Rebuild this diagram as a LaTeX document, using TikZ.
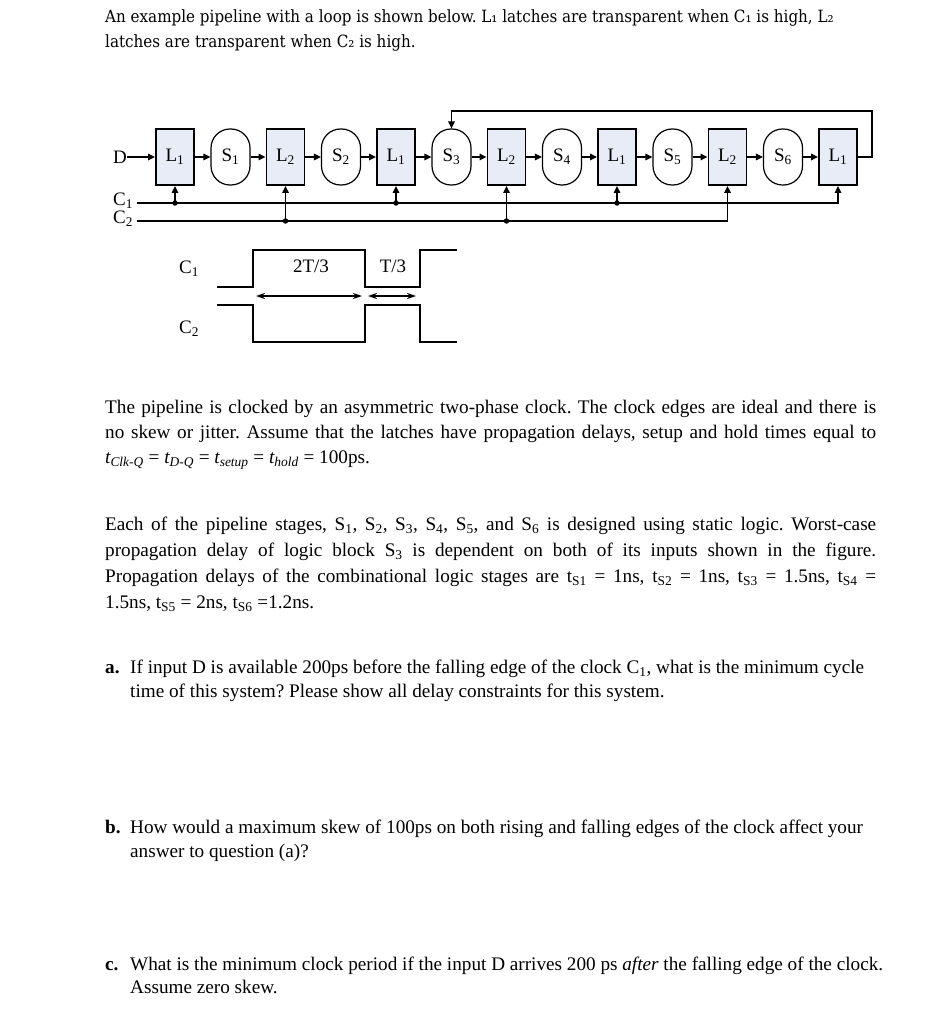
\documentclass[tikz,border=0pt]{standalone}
\usepackage{fontspec}
\setmainfont{Liberation Serif}
\newfontfamily\topfont{DejaVu Serif Condensed}
\usetikzlibrary{arrows.meta}
\definecolor{latchfill}{RGB}{232,236,246}
\newcommand{\jl}[1]{\makebox[771pt][s]{#1}}
\newcommand{\ts}[1]{t\textsubscript{S#1}}
\frenchspacing
\begin{document}
\begin{tikzpicture}[x=1pt,y=-1pt,
  txt/.style={anchor=base west, inner sep=0pt, font=\fontsize{19.2}{22}\selectfont},
  toptxt/.style={anchor=base west, inner sep=0pt, font=\topfont\fontsize{16.85}{20}\selectfont},
  latch/.style={draw, line width=1.9pt, fill=latchfill, minimum width=38pt, minimum height=56pt, inner sep=0pt, font=\fontsize{19}{19}\selectfont},
  stage/.style={draw, line width=1.2pt, rounded corners=19pt, minimum width=39pt, minimum height=56pt, inner sep=0pt, font=\fontsize{19}{19}\selectfont},
  wire/.style={line width=1.5pt},
  arr/.style={wire, -{Triangle[length=7pt,width=6.5pt]}},
  dim/.style={line width=1.3pt, {Stealth[length=9pt,width=6pt]}-{Stealth[length=9pt,width=6pt]}},
  wave/.style={line width=2pt},
  lbl/.style={inner sep=0pt, font=\fontsize{19}{19}\selectfont},
  dot/.style={circle, fill, inner sep=0pt, minimum size=5.5pt}
]
\useasboundingbox (0,0) rectangle (948,1024);
\fill[white] (0,0) rectangle (948,1024);

% top paragraph
\node[toptxt] (t1) at (105,23) {An example pipeline with a loop is shown below. L₁ latches are transparent when C₁ is high, L₂};
\node[toptxt] (t2) at (105,48) {latches are transparent when C₂ is high.};

% pipeline
\foreach \i/\l in {1/1,2/2,3/1,4/2,5/1,6/2,7/1}{
  \node[latch] (la\i) at ({175+110.5*(\i-1)},157) {L\textsubscript{\l}};
}
\foreach \i in {1,...,6}{
  \node[stage] (s\i) at ({230.5+110.5*(\i-1)},157) {S\textsubscript{\i}};
}
\node[lbl] (D) at (120,157) {D};
\draw[arr] (D) -- (la1);
\foreach \i [evaluate=\i as \j using int(\i+1)] in {1,...,6}{
  \draw[arr] (la\i) -- (s\i);
  \draw[arr] (s\i) -- (la\j);
}
\draw[arr] (la7.east) -- ++(14,0) -- ++(0,-46) -| (s3.north);

% clock lines
\node[lbl] (C1) at (123,201) {C\textsubscript{1}};
\node[lbl] (C2) at (123,219) {C\textsubscript{2}};
\coordinate (c1s) at (137,203);
\coordinate (c2s) at (137,221);
\draw[arr] (c1s) -| (la7.south);
\draw[arr] (c2s) -| (la6.south);
\foreach \i in {1,3,5}{
  \draw[arr] (la\i.south |- c1s) -- (la\i.south);
  \node[dot] at (la\i.south |- c1s) {};
}
\foreach \i in {2,4}{
  \draw[arr] (la\i.south |- c2s) -- (la\i.south);
  \node[dot] at (la\i.south |- c2s) {};
}

% clock waveforms
\node[lbl] (w1) at (189,269) {C\textsubscript{1}};
\node[lbl] (w2) at (189,329) {C\textsubscript{2}};
\draw[wave] (217,287) -- (253,287) -- (253,250) -- (365,250) -- (365,287) -- (420,287) -- (420,250) -- (457,250);
\draw[wave] (217,305) -- (253,305) -- (253,342) -- (365,342) -- (365,305) -- (420,305) -- (420,342) -- (457,342);
\coordinate (a1) at (256,296);
\coordinate (a2) at (362,296);
\coordinate (a3) at (368,296);
\coordinate (a4) at (416,296);
\draw[dim] (a1) -- (a2);
\draw[dim] (a3) -- (a4);
\node[lbl] (tt1) at (311,266) {2T/3};
\node[lbl] (tt2) at (393,266) {T/3};

% paragraph 2
\node[txt] (p1) at (105,413) {\jl{The pipeline is clocked by an asymmetric two-phase clock. The clock edges are ideal and there is}};
\node[txt] (p2) at (105,438) {\jl{no skew or jitter. Assume that the latches have propagation delays, setup and hold times equal to}};
\node[txt] (p3) at (105,463) {\textit{t\textsubscript{Clk-Q}} = \textit{t\textsubscript{D-Q}} = \textit{t\textsubscript{setup}} = \textit{t\textsubscript{hold}} = 100ps.};

% paragraph 3
\node[txt] (q1) at (105,530) {\jl{Each of the pipeline stages, S\textsubscript{1}, S\textsubscript{2}, S\textsubscript{3}, S\textsubscript{4}, S\textsubscript{5}, and S\textsubscript{6} is designed using static logic. Worst-case}};
\node[txt] (q2) at (105,556) {\jl{propagation delay of logic block S\textsubscript{3} is dependent on both of its inputs shown in the figure.}};
\node[txt] (q3) at (105,582) {\jl{Propagation delays of the combinational logic stages are \ts{1} = 1ns, \ts{2} = 1ns, \ts{3} = 1.5ns, \ts{4} =}};
\node[txt] (q4) at (105,608) {1.5ns, \ts{5} = 2ns, \ts{6} =1.2ns.};

% questions
\node[txt] (qa) at (105,673) {\textbf{a.}};
\node[txt] (qa1) at (130,673) {If input D is available 200ps before the falling edge of the clock C\textsubscript{1}, what is the minimum cycle};
\node[txt] (qa2) at (130,697) {time of this system? Please show all delay constraints for this system.};
\node[txt] (qb) at (105,833) {\textbf{b.}};
\node[txt] (qb1) at (130,833) {How would a maximum skew of 100ps on both rising and falling edges of the clock affect your};
\node[txt] (qb2) at (130,857) {answer to question (a)?};
\node[txt] (qc) at (105,970) {\textbf{c.}};
\node[txt] (qc1) at (130,970) {What is the minimum clock period if the input D arrives 200 ps \textit{after} the falling edge of the clock.};
\node[txt] (qc2) at (130,993) {Assume zero skew.};
\end{tikzpicture}
\end{document}
